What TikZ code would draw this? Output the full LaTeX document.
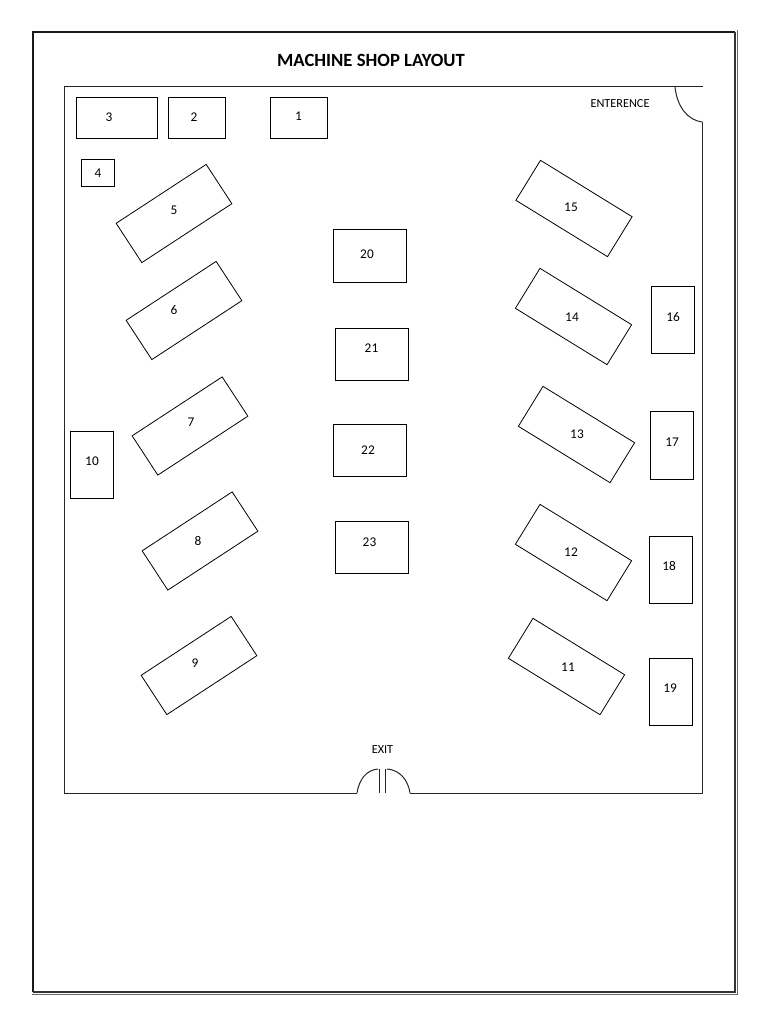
\documentclass[tikz,border=0pt]{standalone}
\usepackage{fontspec}
\setmainfont{Carlito}
\tikzset{
  x=0.75pt,y=-0.75pt,
  wall/.style={draw=black!85,line width=0.75pt},
  mach/.style={draw=black,line width=0.6pt,fill=white,inner sep=0pt,text=black,font=\fontsize{10pt}{12pt}\selectfont},
  tilt/.style={mach,minimum width=80.7pt,minimum height=35.2pt},
  lab/.style={inner sep=0pt,font=\fontsize{10pt}{12pt}\selectfont},
  small/.style={inner sep=0pt,font=\fontsize{9.2pt}{11pt}\selectfont},
}
\newcommand{\boxm}[6]{\node[mach,minimum width=#3*0.75pt,minimum height=#4*0.75pt] (#1) at (#2) {};\node[lab] (t#1) at (#6) {#5};}
\newcommand{\tiltm}[5]{\node[tilt,rotate=#3] (#1) at (#2) {};\node[lab] (t#1) at (#5) {#4};}
\begin{document}
\begin{tikzpicture}
\useasboundingbox (0,0) rectangle (768,1024);
\fill[white] (0,0) rectangle (768,1024);
% page frame
\coordinate (fa) at (33,32); \coordinate (fb) at (735,32); \coordinate (fc) at (735,992); \coordinate (fd) at (33,992);
\draw[black!90,line width=1.1pt] (fd) -- (fa) -- (fb);
\draw[black!80,line width=0.8pt] (fb) -- (fc) -- (fd);
\draw[black!60,line width=0.6pt] (737.5,30) -- (737.5,994.5) -- (32,994.5);
% title
\node[inner sep=0pt,font=\bfseries\fontsize{14pt}{16pt}\selectfont] (title) at (371,60) {MACHINE SHOP LAYOUT};
% room walls
\coordinate (w1) at (675,87); \coordinate (w2) at (703,87); \coordinate (w3) at (64,87);
\coordinate (w4) at (64,793); \coordinate (w5) at (357,793); \coordinate (w6) at (410,793);
\coordinate (w7) at (702,793); \coordinate (w8) at (702,122);
\draw[wall] (w2) -- (w3) -- (w4) -- (w5);
\draw[wall] (w6) -- (w7) -- (w8);
\draw[wall] (w1) .. controls (677,106) and (687,120) .. (w8);
\draw[wall] (w5) .. controls (359,780) and (366,770) .. (378,769);
\draw[wall] (w6) .. controls (408,780) and (400,770) .. (387,769);
\draw[wall] (379,769) -- (379,793);
\draw[wall] (385,769) -- (385,793);
\node[small] (ent) at (620,104) {ENTERENCE};
\node[small] (exit) at (382.5,750) {EXIT};
% upright machines
\boxm{m3}{116.5,117.5}{81}{41}{3}{109,117.5}
\boxm{m2}{196.5,117.5}{57}{41}{2}{194,117.5}
\boxm{m1}{298.5,117.5}{57}{41}{1}{298.5,116}
\boxm{m4}{98,173}{33}{27}{4}{98,173.5}
\boxm{m10}{92,465}{43}{67}{10}{92,461}
\boxm{m20}{369.5,255.5}{73}{53}{20}{367,254.5}
\boxm{m21}{371.5,354}{73}{52}{21}{371.5,348.5}
\boxm{m22}{369.5,450}{73}{52}{22}{368,450.5}
\boxm{m23}{371.5,547}{73}{52}{23}{369.5,542.5}
\boxm{m16}{673,320}{43}{67}{16}{673,317.5}
\boxm{m17}{672,445.5}{43}{68}{17}{672,442.5}
\boxm{m18}{671,570}{43}{67}{18}{669,566}
\boxm{m19}{671,691.5}{43}{67}{19}{670,688}
% tilted machines
\tiltm{m5}{174,213.5}{33.2}{5}{174,210.5}
\tiltm{m6}{184,310.5}{33.2}{6}{174,310.5}
\tiltm{m7}{190,426}{33.2}{7}{191,422}
\tiltm{m8}{200,541}{33.2}{8}{198,541}
\tiltm{m9}{199,665.5}{33.2}{9}{195,663.5}
\tiltm{m15}{574,208.5}{-31.6}{15}{571,207}
\tiltm{m14}{573.5,316.5}{-31.6}{14}{572,317}
\tiltm{m13}{576.5,434.5}{-31.6}{13}{577,434.5}
\tiltm{m12}{573.5,552.5}{-31.6}{12}{571,552}
\tiltm{m11}{566.5,666.5}{-31.6}{11}{568,667}
\end{tikzpicture}
\end{document}
